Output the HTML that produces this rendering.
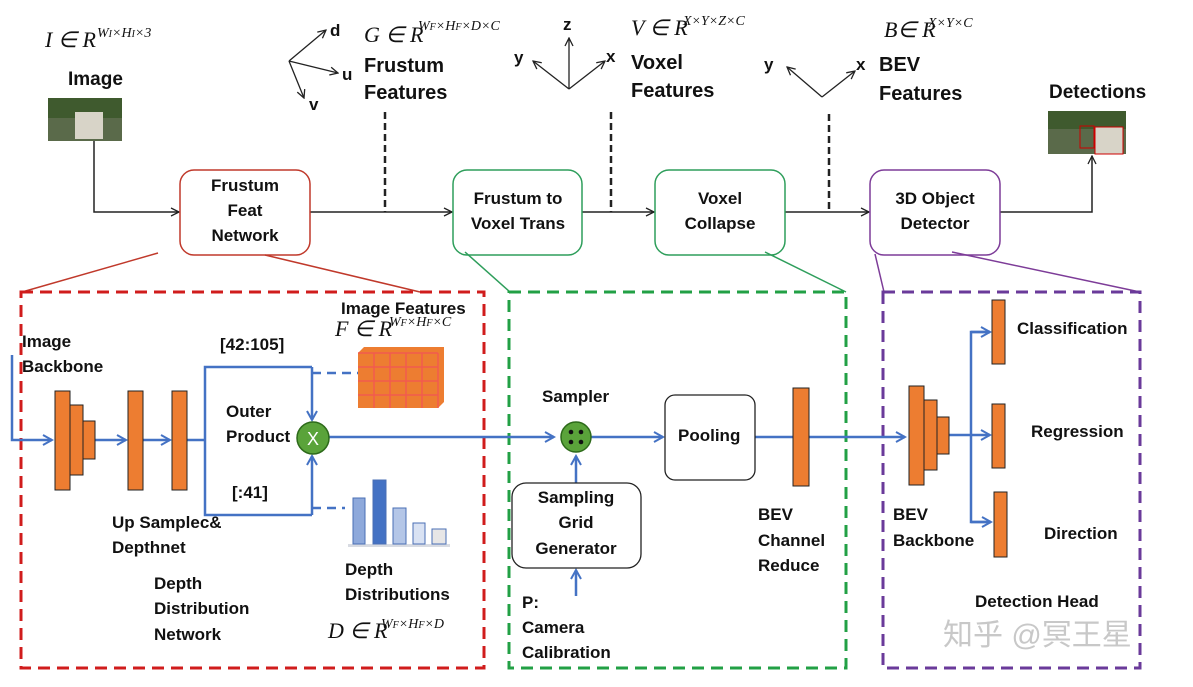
<!DOCTYPE html>
<html><head><meta charset="utf-8"><style>
body{margin:0;background:#fff}
text{font-family:"Liberation Sans","DejaVu Sans",sans-serif;fill:#111;font-weight:bold}
.b{font-size:18px}
.m{font-family:"Liberation Serif",serif;font-style:italic;font-size:22px;font-weight:normal}
.s{font-family:"Liberation Serif",serif;font-style:italic;font-size:14px;font-weight:normal}
</style></head><body>
<svg width="1193" height="682" viewBox="0 0 1193 682" xmlns="http://www.w3.org/2000/svg">
<defs>
<marker id="ak" markerWidth="10" markerHeight="10" refX="9" refY="5" orient="auto" markerUnits="userSpaceOnUse"><path d="M1,1 L9,5 L1,9" fill="none" stroke="#222" stroke-width="1.3"/></marker>
<marker id="ab" markerWidth="12" markerHeight="12" refX="10" refY="6" orient="auto" markerUnits="userSpaceOnUse"><path d="M1,1 L10,6 L1,11" fill="none" stroke="#4472c4" stroke-width="2"/></marker>
</defs>
<text x="45" y="47" class="m">I ∈ R</text><text x="97" y="37" class="s">W<tspan font-size="10">I</tspan>×H<tspan font-size="10">I</tspan>×3</text>
<text x="68" y="85" font-size="19">Image</text>
<rect x="48" y="98" width="74" height="43" fill="#5a6a4a"/>
<rect x="48" y="98" width="74" height="20" fill="#3f5a2e"/>
<rect x="75" y="112" width="28" height="27" fill="#d8d4c8"/>
<g stroke="#222" stroke-width="1.3" fill="none">
<line x1="289" y1="61" x2="326" y2="30" marker-end="url(#ak)"/>
<line x1="289" y1="61" x2="338" y2="73" marker-end="url(#ak)"/>
<line x1="289" y1="61" x2="304" y2="98" marker-end="url(#ak)"/>
<line x1="569" y1="89" x2="569" y2="38" marker-end="url(#ak)"/>
<line x1="569" y1="89" x2="533" y2="61" marker-end="url(#ak)"/>
<line x1="569" y1="89" x2="605" y2="61" marker-end="url(#ak)"/>
<line x1="822" y1="97" x2="787" y2="67" marker-end="url(#ak)"/>
<line x1="822" y1="97" x2="855" y2="71" marker-end="url(#ak)"/>
</g>
<g style="font-weight:normal">
<text x="330" y="36" font-size="17" font-weight="normal">d</text><text x="342" y="80" font-size="17" font-weight="normal">u</text><text x="309" y="110" font-size="17" font-weight="normal">v</text>
<text x="563" y="30" font-size="17" font-weight="normal">z</text><text x="514" y="63" font-size="17" font-weight="normal">y</text><text x="606" y="62" font-size="17" font-weight="normal">x</text>
<text x="764" y="70" font-size="17" font-weight="normal">y</text><text x="856" y="70" font-size="17" font-weight="normal">x</text>
</g>
<text x="364" y="42" class="m">G ∈ R</text><text x="418" y="30" class="s">W<tspan font-size="10">F</tspan>×H<tspan font-size="10">F</tspan>×D×C</text>
<text x="364" y="72" font-size="20">Frustum</text><text x="364" y="99" font-size="20">Features</text>
<text x="631" y="35" class="m">V ∈ R</text><text x="683" y="25" class="s">X×Y×Z×C</text>
<text x="631" y="69" font-size="20">Voxel</text><text x="631" y="97" font-size="20">Features</text>
<text x="884" y="37" class="m">B∈ R</text><text x="928" y="27" class="s">X×Y×C</text>
<text x="879" y="71" font-size="20">BEV</text><text x="879" y="100" font-size="20">Features</text>
<text x="1049" y="98" font-size="19">Detections</text>
<rect x="1048" y="111" width="78" height="43" fill="#5a6a4a"/><rect x="1048" y="111" width="78" height="18" fill="#3f5a2e"/>
<rect x="1095" y="127" width="28" height="27" fill="#d8d4c8" stroke="#c00"/><rect x="1080" y="126" width="14" height="22" fill="none" stroke="#c00"/>
<g stroke="#222" stroke-width="1.5" fill="none">
<polyline points="94,141 94,212 179,212" marker-end="url(#ak)"/>
<line x1="310" y1="212" x2="452" y2="212" marker-end="url(#ak)"/>
<line x1="582" y1="212" x2="654" y2="212" marker-end="url(#ak)"/>
<line x1="785" y1="212" x2="869" y2="212" marker-end="url(#ak)"/>
<polyline points="1000,212 1092,212 1092,156" marker-end="url(#ak)"/>
<g stroke-dasharray="7,4" stroke-width="2.5"><line x1="385" y1="112" x2="385" y2="212"/><line x1="611" y1="112" x2="611" y2="212"/><line x1="829" y1="114" x2="829" y2="212"/></g>
</g>
<rect x="180" y="170" width="130" height="85" rx="14" fill="#fff" stroke="#c0392b" stroke-width="1.5"/>
<rect x="453" y="170" width="129" height="85" rx="14" fill="#fff" stroke="#2e9e5b" stroke-width="1.5"/>
<rect x="655" y="170" width="130" height="85" rx="14" fill="#fff" stroke="#2e9e5b" stroke-width="1.5"/>
<rect x="870" y="170" width="130" height="85" rx="14" fill="#fff" stroke="#7d3c98" stroke-width="1.5"/>
<g font-size="17" text-anchor="middle">
<text x="245" y="191">Frustum</text><text x="245" y="216">Feat</text><text x="245" y="241">Network</text>
<text x="518" y="204">Frustum to</text><text x="518" y="229">Voxel Trans</text>
<text x="720" y="204">Voxel</text><text x="720" y="229">Collapse</text>
<text x="935" y="204">3D Object</text><text x="935" y="229">Detector</text>
</g>
<g stroke-width="1.5"><line x1="158" y1="253" x2="22" y2="292" stroke="#c0392b"/><line x1="265" y1="255" x2="420" y2="292" stroke="#c0392b"/>
<line x1="465" y1="252" x2="510" y2="292" stroke="#2e9e5b"/><line x1="765" y1="252" x2="846" y2="292" stroke="#2e9e5b"/>
<line x1="875" y1="254" x2="884" y2="292" stroke="#7d3c98"/><line x1="952" y1="252" x2="1140" y2="292" stroke="#7d3c98"/></g>
<rect x="21" y="292" width="463" height="376" fill="none" stroke="#d01c1c" stroke-width="3" stroke-dasharray="12,7"/>
<rect x="509" y="292" width="337" height="376" fill="none" stroke="#22a045" stroke-width="3" stroke-dasharray="12,7"/>
<rect x="883" y="292" width="257" height="376" fill="none" stroke="#6a3a9a" stroke-width="3" stroke-dasharray="12,7"/>
<g stroke="#4472c4" stroke-width="2.5" fill="none">
<polyline points="12,355 12,440 52,440" marker-end="url(#ab)"/>
<line x1="95" y1="440" x2="126" y2="440" marker-end="url(#ab)"/>
<line x1="143" y1="440" x2="170" y2="440" marker-end="url(#ab)"/>
<line x1="187" y1="440" x2="205" y2="440"/>
<polyline points="312,367 205,367 205,515 312,515"/>
<line x1="312" y1="367" x2="312" y2="420" marker-end="url(#ab)"/>
<line x1="312" y1="515" x2="312" y2="456" marker-end="url(#ab)"/>
<line x1="312" y1="373" x2="358" y2="373" stroke-dasharray="9,6"/>
<line x1="312" y1="508" x2="345" y2="508" stroke-dasharray="9,6"/>
<line x1="329" y1="437" x2="554" y2="437" marker-end="url(#ab)"/>
<line x1="591" y1="437" x2="663" y2="437" marker-end="url(#ab)"/>
<line x1="755" y1="437" x2="793" y2="437"/>
<line x1="809" y1="437" x2="905" y2="437" marker-end="url(#ab)"/>
<line x1="949" y1="435" x2="990" y2="435" marker-end="url(#ab)"/>
<polyline points="990,332 971,332 971,522 990,522"/>
<line x1="971" y1="332" x2="990" y2="332" marker-end="url(#ab)"/>
<line x1="971" y1="522" x2="991" y2="522" marker-end="url(#ab)"/>
<line x1="576" y1="483" x2="576" y2="456" marker-end="url(#ab)"/>
<line x1="576" y1="596" x2="576" y2="570" marker-end="url(#ab)"/>
</g>
<g fill="#ed7d31" stroke="#222" stroke-width="1">
<rect x="55" y="391" width="15" height="99"/><rect x="70" y="405" width="13" height="70"/><rect x="83" y="421" width="12" height="38"/>
<rect x="128" y="391" width="15" height="99"/><rect x="172" y="391" width="15" height="99"/>
<rect x="793" y="388" width="16" height="98"/>
<rect x="909" y="386" width="15" height="99"/><rect x="924" y="400" width="13" height="70"/><rect x="937" y="417" width="12" height="37"/>
<rect x="992" y="300" width="13" height="64"/><rect x="992" y="404" width="13" height="64"/><rect x="994" y="492" width="13" height="65"/>
</g>
<g>
<polygon points="358,353 364,347 444,347 444,402 438,408 358,408" fill="#ed7d31"/>
<g stroke="#f25b4f" stroke-width="1.5">
<line x1="358" y1="367" x2="438" y2="367"/><line x1="358" y1="381" x2="438" y2="381"/><line x1="358" y1="395" x2="438" y2="395"/>
<line x1="374" y1="353" x2="374" y2="408"/><line x1="390" y1="353" x2="390" y2="408"/><line x1="406" y1="353" x2="406" y2="408"/><line x1="422" y1="353" x2="422" y2="408"/><line x1="438" y1="353" x2="438" y2="408"/>
<line x1="358" y1="353" x2="438" y2="353"/>
</g></g>
<rect x="348" y="544" width="102" height="3" fill="#d8dbe2"/>
<g stroke="#4a6fb5" stroke-width="1">
<rect x="353" y="498" width="12" height="46" fill="#8ea9db"/><rect x="373" y="480" width="13" height="64" fill="#4472c4"/>
<rect x="393" y="508" width="13" height="36" fill="#b4c6e7"/><rect x="413" y="523" width="12" height="21" fill="#d9e2f3"/><rect x="432" y="529" width="14" height="15" fill="#e7e6e6"/>
</g>
<circle cx="313" cy="438" r="16" fill="#5aa33a" stroke="#2d6a1a" stroke-width="1.5"/>
<text x="313" y="445" text-anchor="middle" font-size="18" style="fill:#fff;font-weight:normal">X</text>
<circle cx="576" cy="437" r="15" fill="#5aa33a" stroke="#2d6a1a" stroke-width="1.5"/>
<g fill="#111"><circle cx="571" cy="432" r="2.3"/><circle cx="581" cy="432" r="2.3"/><circle cx="571" cy="442" r="2.3"/><circle cx="581" cy="442" r="2.3"/></g>
<rect x="665" y="395" width="90" height="85" rx="10" fill="#fff" stroke="#222" stroke-width="1.3"/>
<rect x="512" y="483" width="129" height="85" rx="14" fill="#fff" stroke="#222" stroke-width="1.3"/>
<g font-size="17">
<text x="22" y="347">Image</text><text x="22" y="372">Backbone</text>
<text x="220" y="350">[42:105]</text><text x="232" y="498">[:41]</text>
<text x="226" y="417">Outer</text><text x="226" y="442">Product</text>
<text x="341" y="314">Image Features</text>
<text x="112" y="528">Up Samplec&amp;</text><text x="112" y="553">Depthnet</text>
<text x="154" y="589">Depth</text><text x="154" y="614">Distribution</text><text x="154" y="640">Network</text>
<text x="345" y="575">Depth</text><text x="345" y="600">Distributions</text>
<text x="542" y="402">Sampler</text><text x="678" y="441">Pooling</text>
<text x="576" y="503" text-anchor="middle">Sampling</text><text x="576" y="528" text-anchor="middle">Grid</text><text x="576" y="554" text-anchor="middle">Generator</text>
<text x="522" y="608">P:</text><text x="522" y="633">Camera</text><text x="522" y="658">Calibration</text>
<text x="758" y="520">BEV</text><text x="758" y="546">Channel</text><text x="758" y="571">Reduce</text>
<text x="893" y="520">BEV</text><text x="893" y="546">Backbone</text>
<text x="1017" y="334">Classification</text><text x="1031" y="437">Regression</text><text x="1044" y="539">Direction</text>
<text x="975" y="607">Detection Head</text>
</g>
<text x="335" y="336" class="m">F ∈ R</text><text x="389" y="326" class="s">W<tspan font-size="10">F</tspan>×H<tspan font-size="10">F</tspan>×C</text>
<text x="328" y="638" class="m">D ∈ R</text><text x="381" y="628" class="s">W<tspan font-size="10">F</tspan>×H<tspan font-size="10">F</tspan>×D</text>
<text x="943" y="645" font-size="30" style="fill:#c8c8c8;font-weight:normal;font-family:'Liberation Sans','Noto Sans CJK SC',sans-serif">知乎 @冥王星</text>
</svg>
</body></html>
